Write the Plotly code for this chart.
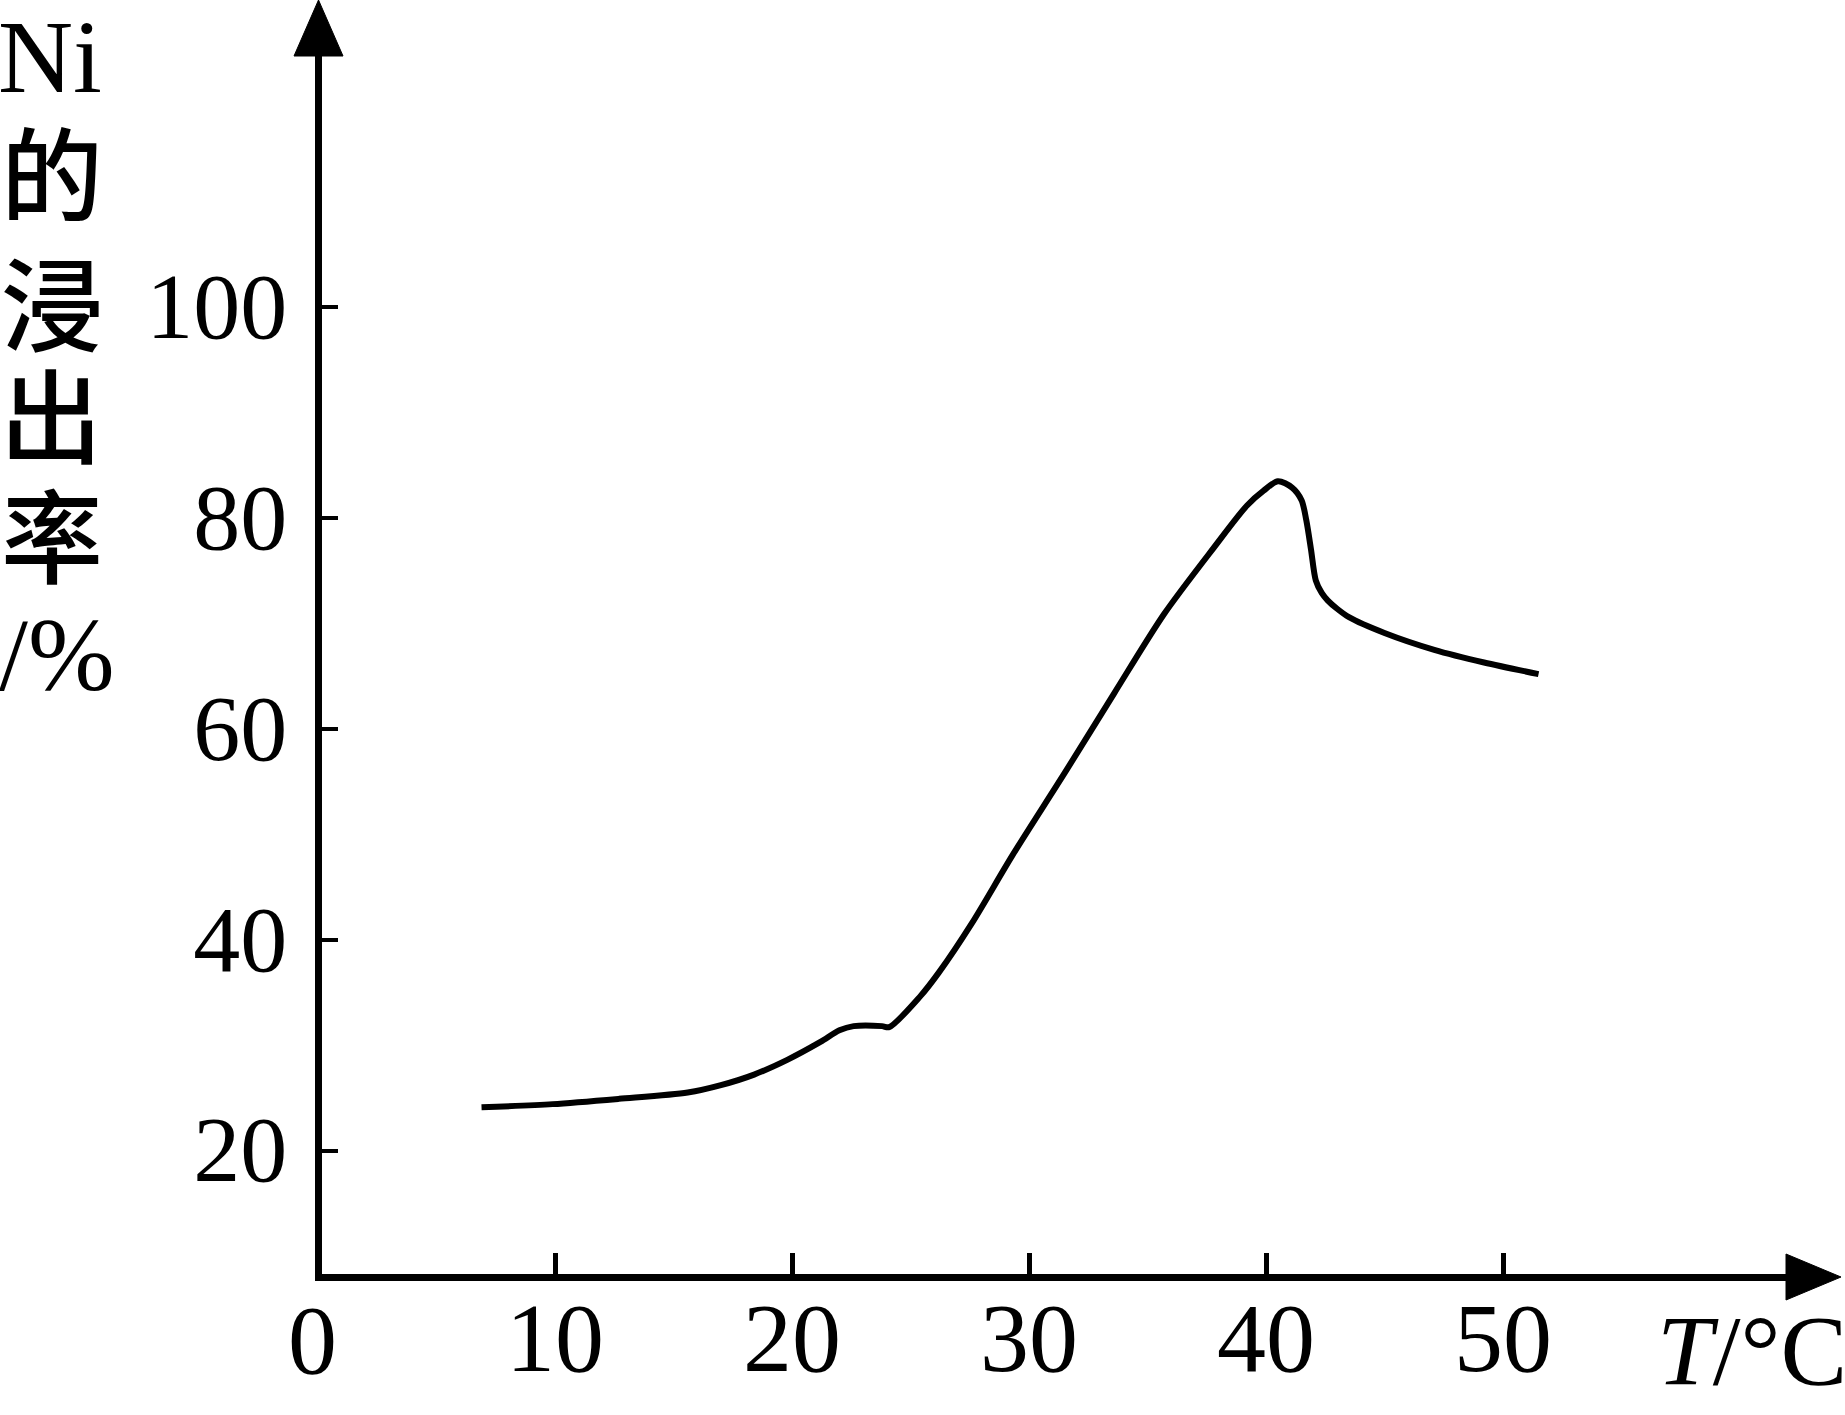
import plotly.graph_objects as go

# ---- data ----
temperature = [6.9, 9.9, 12.7, 15.6, 17.0, 18.4, 19.8, 21.2, 22.0, 22.6, 23.8, 24.1,
               25.4, 26.2, 27.6, 29.3, 31.5, 33.6, 35.7, 37.8, 39.2, 39.9, 40.5,
               41.1, 41.5, 41.7, 41.9, 42.1, 42.35, 42.6, 43.0, 43.5, 45.0, 47.1, 49.2, 51.5]
leach_rate = [24.1, 24.4, 24.9, 25.5, 26.2, 27.2, 28.6, 30.3, 31.4, 31.8, 31.8, 31.7,
              34.6, 36.9, 41.6, 48.0, 55.8, 63.4, 70.9, 77.2, 81.2, 82.6, 83.5,
              82.9, 81.7, 79.8, 77.0, 74.1, 72.9, 72.2, 71.4, 70.6, 69.1, 67.5, 66.3, 65.2]
x_ticks = [10, 20, 30, 40, 50]
x_tick_labels = ["10", "20", "30", "40", "50"]
y_ticks = [20, 40, 60, 80, 100]
y_tick_labels = ["20", "40", "60", "80", "100"]
y_title_lines = ["Ni", "的", "浸", "出", "率", "/%"]
x_title = "<i>T</i>/°C"
origin_label = "0"

# ---- layout geometry (pixels) ----
W, H = 1845, 1415
X0_PX, PPX = 318.0, 23.7      # pixel of T=0, pixels per degree
Y0_PX, PPY = 1361.3, 10.54    # pixel of 0 %, pixels per percent
LW = 7
L, R, T, B = 322, 1787, 55, 1273.5


def px2x(px):
    return (px - X0_PX) / PPX


def py2y(py):
    return (Y0_PX - py) / PPY


def pxp(px):
    return px / W


def pyp(py):
    return 1 - py / H


serif = "Liberation Serif"
cjk = "Noto Sans CJK SC"

fig = go.Figure()
fig.add_trace(go.Scatter(
    x=temperature, y=leach_rate, mode="lines",
    line=dict(color="black", width=6, shape="spline", smoothing=0.8),
    hoverinfo="skip", showlegend=False,
))

annotations = []
annotations.append(dict(x=pxp(312), y=pyp(1340), xref="paper", yref="paper",
                        text=origin_label, showarrow=False, xanchor="center", yanchor="middle",
                        font=dict(family=serif, size=98, color="black")))
annotations.append(dict(x=pxp(1752), y=pyp(1350), xref="paper", yref="paper",
                        text=x_title, showarrow=False, xanchor="center", yanchor="middle",
                        font=dict(family=serif, size=100, color="black")))
title_centers = [(50, 56), (52, 170), (52, 299), (51, 411), (52, 532), (57, 655)]
for txt, (cx, cy) in zip(y_title_lines, title_centers):
    is_cjk = txt not in ("Ni", "/%")
    annotations.append(dict(x=pxp(cx), y=pyp(cy), xref="paper", yref="paper",
                            text=txt, showarrow=False, xanchor="center", yanchor="middle",
                            font=dict(family=cjk if is_cjk else serif,
                                      size=102 if is_cjk else 104, color="black",
                                      weight=500 if is_cjk else 400)))

shapes = [
    dict(type="path", xref="paper", yref="paper",
         path=f"M {pxp(318.5)} {pyp(0)} L {pxp(294)} {pyp(56)} L {pxp(343)} {pyp(56)} Z",
         fillcolor="black", line=dict(color="black", width=1)),
    dict(type="path", xref="paper", yref="paper",
         path=f"M {pxp(1841)} {pyp(1277)} L {pxp(1786)} {pyp(1254)} L {pxp(1786)} {pyp(1300)} Z",
         fillcolor="black", line=dict(color="black", width=1)),
]

fig.update_layout(
    width=W, height=H,
    margin=dict(l=0, r=0, t=0, b=0),
    paper_bgcolor="white", plot_bgcolor="white",
    showlegend=False,
    xaxis=dict(domain=[pxp(L), pxp(R)], range=[px2x(L), px2x(R)],
               showgrid=False, zeroline=False,
               showline=True, linecolor="black", linewidth=LW,
               ticks="inside", ticklen=21, tickwidth=4.5, tickcolor="black",
               tickvals=x_ticks, ticktext=x_tick_labels,
               ticklabelstandoff=-27,
               tickfont=dict(family=serif, size=98, color="black")),
    yaxis=dict(domain=[pyp(B), pyp(T)], range=[py2y(B), py2y(T)],
               showgrid=False, zeroline=False,
               showline=True, linecolor="black", linewidth=LW,
               ticks="inside", ticklen=16, tickwidth=4, tickcolor="black",
               tickvals=y_ticks, ticktext=y_tick_labels,
               ticklabelstandoff=9, ticklabelshift=-2,
               tickfont=dict(family=serif, size=94, color="black")),
    annotations=annotations,
    shapes=shapes,
)

fig.write_html("out.html", config={"displayModeBar": False},
               post_script="document.body.style.margin='0px';")
